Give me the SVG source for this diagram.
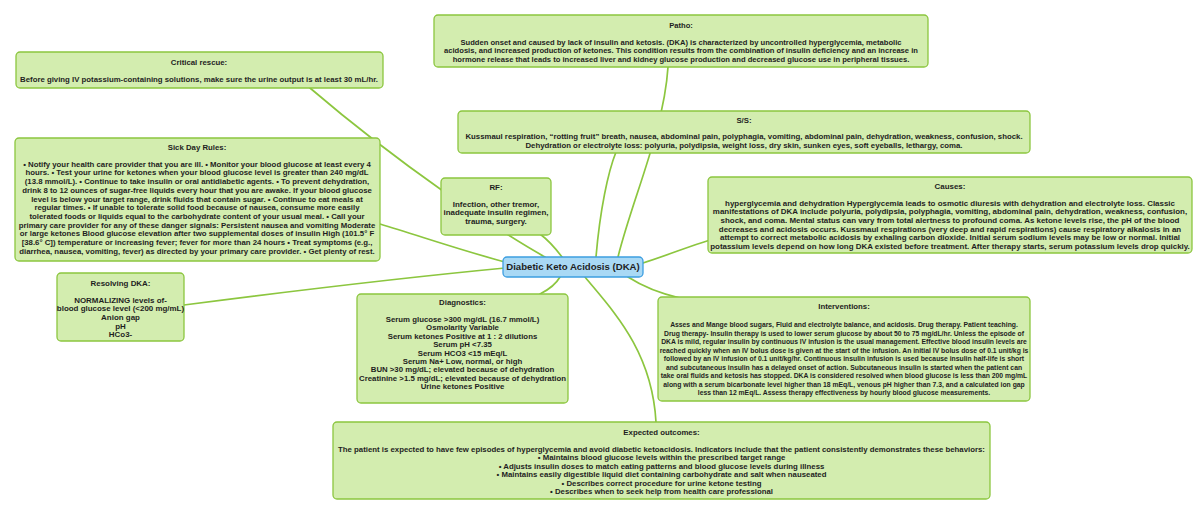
<svg xmlns="http://www.w3.org/2000/svg" width="1200" height="516" viewBox="0 0 1200 516">
<style>
.n{fill:#d3edaf;stroke:#8cc63f;stroke-width:1.3}
.c{fill:#a9d9f5;stroke:#3d9ee0;stroke-width:1.3}
text{font-family:"Liberation Sans",Arial,sans-serif;font-weight:bold;font-size:7.8px;fill:#1e1e1e;text-anchor:middle}
.ct{font-size:9.6px}
.big text{font-size:7.95px}
.pa text{font-size:7.6px}
.iv text{font-size:6.8px}
.e path{fill:none;stroke:#8cc63f;stroke-width:1.7;stroke-linecap:round}
</style>
<rect width="1200" height="516" fill="#ffffff"/>
<g class="e" id="connectors">
<path d="M618 257 C632 200 664 130 668 67"/>
<path d="M596 257 C600 210 608 172 616 152"/>
<path d="M545 257 C500 232 400 165 310 88"/>
<path d="M562 257 C556 249 548 240 540 234"/>
<path d="M505 262 C460 250 420 236 380 224"/>
<path d="M505 268 C400 278 300 290 184 305"/>
<path d="M560 277 C556 284 548 290 540 294"/>
<path d="M585 277 C612 310 652 350 656 422"/>
<path d="M628 277 C642 286 658 293 680 298"/>
<path d="M643 263 C668 255 690 246 710 240"/>
</g>
<g id="critical">
<rect class="n" x="16" y="52" width="367" height="36" rx="4"/>
<text x="199" y="64.7">Critical rescue:</text>
<text x="199" y="81.7">Before giving IV potassium-containing solutions, make sure the urine output is at least 30 mL/hr.</text>
</g>
<g id="patho" class="pa">
<rect class="n" x="434" y="15" width="494" height="52" rx="4"/>
<text x="681" y="27.7">Patho:</text>
<text x="681" y="44.7">Sudden onset and caused by lack of insulin and ketosis. (DKA) is characterized by uncontrolled hyperglycemia, metabolic</text>
<text x="681" y="53.3">acidosis, and increased production of ketones. This condition results from the combination of insulin deficiency and an increase in</text>
<text x="681" y="61.9">hormone release that leads to increased liver and kidney glucose production and decreased glucose use in peripheral tissues.</text>
</g>
<g id="ss">
<rect class="n" x="458" y="111" width="572" height="42" rx="4"/>
<text x="744" y="122.7">S/S:</text>
<text x="744" y="139.2">Kussmaul respiration, “rotting fruit” breath, nausea, abdominal pain, polyphagia, vomiting, abdominal pain, dehydration, weakness, confusion, shock.</text>
<text x="744" y="147.8">Dehydration or electrolyte loss: polyuria, polydipsia, weight loss, dry skin, sunken eyes, soft eyeballs, lethargy, coma.</text>
</g>
<g id="rf" class="big">
<rect class="n" x="441" y="178" width="110" height="57" rx="4"/>
<text x="496" y="189.7">RF:</text>
<text x="496" y="206.7">Infection, other tremor,</text>
<text x="496" y="215.3">inadequate insulin regimen,</text>
<text x="496" y="223.9">trauma, surgery.</text>
</g>
<g id="causes" class="big">
<rect class="n" x="708" y="177" width="484" height="76" rx="4"/>
<text x="950" y="188.7">Causes:</text>
<text x="950" y="205.7">hyperglycemia and dehydration Hyperglycemia leads to osmotic diuresis with dehydration and electrolyte loss. Classic</text>
<text x="950" y="214.3">manifestations of DKA include polyuria, polydipsia, polyphagia, vomiting, abdominal pain, dehydration, weakness, confusion,</text>
<text x="950" y="222.9">shock, and coma. Mental status can vary from total alertness to profound coma. As ketone levels rise, the pH of the blood</text>
<text x="950" y="231.5">decreases and acidosis occurs. Kussmaul respirations (very deep and rapid respirations) cause respiratory alkalosis in an</text>
<text x="950" y="240.1">attempt to correct metabolic acidosis by exhaling carbon dioxide. Initial serum sodium levels may be low or normal. Initial</text>
<text x="950" y="248.7">potassium levels depend on how long DKA existed before treatment. After therapy starts, serum potassium levels drop quickly.</text>
</g>
<g id="sickday">
<rect class="n" x="15" y="138" width="365" height="123" rx="4"/>
<text x="197" y="149.7">Sick Day Rules:</text>
<text x="197" y="166.7">• Notify your health care provider that you are ill. • Monitor your blood glucose at least every 4</text>
<text x="197" y="175.4">hours. • Test your urine for ketones when your blood glucose level is greater than 240 mg/dL</text>
<text x="197" y="184.1">(13.8 mmol/L). • Continue to take insulin or oral antidiabetic agents. • To prevent dehydration,</text>
<text x="197" y="192.8">drink 8 to 12 ounces of sugar-free liquids every hour that you are awake. If your blood glucose</text>
<text x="197" y="201.5">level is below your target range, drink fluids that contain sugar. • Continue to eat meals at</text>
<text x="197" y="210.2">regular times. • If unable to tolerate solid food because of nausea, consume more easily</text>
<text x="197" y="218.9">tolerated foods or liquids equal to the carbohydrate content of your usual meal. • Call your</text>
<text x="197" y="227.6">primary care provider for any of these danger signals: Persistent nausea and vomiting Moderate</text>
<text x="197" y="236.3">or large ketones Blood glucose elevation after two supplemental doses of insulin High (101.5° F</text>
<text x="197" y="245">[38.6° C]) temperature or increasing fever; fever for more than 24 hours • Treat symptoms (e.g.,</text>
<text x="197" y="253.7">diarrhea, nausea, vomiting, fever) as directed by your primary care provider. • Get plenty of rest.</text>
</g>
<g id="resolving" class="big">
<rect class="n" x="57" y="273" width="127" height="68" rx="4"/>
<text x="120.5" y="285.7">Resolving DKA:</text>
<text x="120.5" y="302.7">NORMALIZING levels of-</text>
<text x="120.5" y="311.3">blood glucose level (&lt;200 mg/mL)</text>
<text x="120.5" y="319.9">Anion gap</text>
<text x="120.5" y="328.5">pH</text>
<text x="120.5" y="337.1">HCo3-</text>
</g>
<g id="diagnostics">
<rect class="n" x="357" y="294" width="211" height="109" rx="4"/>
<text x="462.5" y="304.5">Diagnostics:</text>
<text x="462.5" y="321.9">Serum glucose  &gt;300 mg/dL (16.7 mmol/L)</text>
<text x="462.5" y="330.3">Osmolarity Variable</text>
<text x="462.5" y="338.7">Serum ketones Positive at 1 : 2 dilutions</text>
<text x="462.5" y="347.1">Serum pH &lt;7.35</text>
<text x="462.5" y="355.5">Serum HCO3 &lt;15 mEq/L</text>
<text x="462.5" y="363.9">Serum Na+ Low, normal, or high</text>
<text x="462.5" y="372.3">BUN &gt;30 mg/dL; elevated because of dehydration</text>
<text x="462.5" y="380.7">Creatinine &gt;1.5 mg/dL; elevated because of dehydration</text>
<text x="462.5" y="389.1">Urine ketones Positive</text>
</g>
<g id="interventions">
<rect class="n" x="658" y="297" width="372" height="104" rx="4"/>
<text x="844" y="308.7">Interventions:</text>
<g class="iv">
<text x="844" y="327.1">Asses and Mange blood sugars,  Fluid and electrolyte balance, and acidosis. Drug therapy. Patient teaching.</text>
<text x="844" y="335.6">Drug therapy- Insulin therapy is used to lower serum glucose by about 50 to 75 mg/dL/hr. Unless the episode of</text>
<text x="844" y="344.1">DKA is mild, regular insulin by continuous IV infusion is the usual management. Effective blood insulin levels are</text>
<text x="844" y="352.6">reached quickly when an IV bolus dose is given at the start of the infusion. An initial IV bolus dose of 0.1 unit/kg is</text>
<text x="844" y="361.1">followed by an IV infusion of 0.1 unit/kg/hr. Continuous insulin infusion is used because insulin half-life is short</text>
<text x="844" y="369.6">and subcutaneous insulin has a delayed onset of action. Subcutaneous insulin is started when the patient can</text>
<text x="844" y="378.1">take oral fluids and ketosis has stopped. DKA is considered resolved when blood glucose is less than 200 mg/mL</text>
<text x="844" y="386.6">along with a serum bicarbonate level higher than 18 mEq/L, venous pH higher than 7.3, and a calculated ion gap</text>
<text x="844" y="395.1">less than 12 mEq/L. Assess therapy effectiveness by hourly blood glucose measurements.</text>
</g>
</g>
<g id="expected">
<rect class="n" x="333" y="422" width="657" height="77" rx="4"/>
<text x="661.5" y="434.7">Expected outcomes:</text>
<text x="661.5" y="451.7">The patient is expected to have few episodes of hyperglycemia and avoid diabetic ketoacidosis. Indicators include that the patient consistently demonstrates these behaviors:</text>
<text x="661.5" y="460.2">• Maintains blood glucose levels within the prescribed target range</text>
<text x="661.5" y="468.7">• Adjusts insulin doses to match eating patterns and blood glucose levels during illness</text>
<text x="661.5" y="477.2">• Maintains easily digestible liquid diet containing carbohydrate and salt when nauseated</text>
<text x="661.5" y="485.7">• Describes correct procedure for urine ketone testing</text>
<text x="661.5" y="494.2">• Describes when to seek help from health care professional</text>
</g>
<g id="center">
<rect class="c" x="503" y="257" width="140" height="20" rx="4"/>
<text class="ct" x="573" y="270.4">Diabetic Keto Acidosis (DKA)</text>
</g>
</svg>
